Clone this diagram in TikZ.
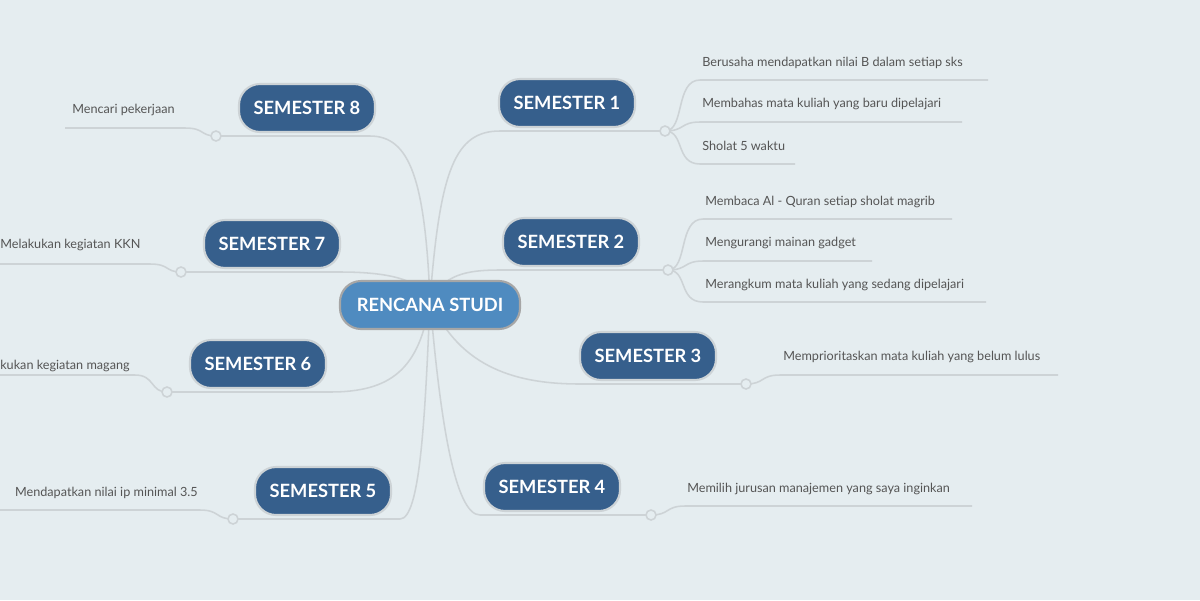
\documentclass[tikz,border=0pt]{standalone}
\usepackage{fontspec}
\setmainfont{Lato}
\definecolor{bg}{HTML}{E5EDF0}
\definecolor{sem}{HTML}{365F8C}
\definecolor{ctr}{HTML}{4F8BC0}
\definecolor{ln}{HTML}{CDD3D6}
\definecolor{tx}{HTML}{555555}
\begin{document}
\begin{tikzpicture}[x=0.025cm,y=-0.025cm,
 semn/.style={draw=ln,line width=1.5pt,fill=sem,rounded corners=15pt,text=white,font=\fontsize{13}{14}\selectfont\bfseries,minimum height=0.6cm*2,minimum width=3.4cm,inner sep=0pt},
 ctrn/.style={semn,fill=ctr,draw=gray!70,minimum width=4.5cm},
 lk/.style={draw=ln,line width=1.1pt},
 dot/.style={circle,draw=ln,line width=1.1pt,fill=bg,minimum size=0.25cm,inner sep=0pt},
 lf/.style={font=\fontsize{9}{10}\selectfont,text=tx,inner sep=0pt}]
\useasboundingbox[fill=bg] (0,0) rectangle (1200,600);
% connectors
\coordinate (c1) at (665,131); \coordinate (c2) at (668,270); \coordinate (c3) at (746,384); \coordinate (c4) at (651,515);
\coordinate (c5) at (233,519); \coordinate (c6) at (167,392); \coordinate (c7) at (181,272); \coordinate (c8) at (216,136);
\draw[lk] (430,300) .. controls (440,170) and (455,131) .. (500,131) -- (c1);
\draw[lk] (430,300) .. controls (445,275) and (465,270) .. (500,270) -- (c2);
\draw[lk] (430,300) .. controls (460,370) and (520,384) .. (580,384) -- (c3);
\draw[lk] (430,300) .. controls (440,420) and (455,515) .. (480,515) -- (c4);
\draw[lk] (430,300) .. controls (425,420) and (420,519) .. (400,519) -- (c5);
\draw[lk] (430,300) .. controls (420,370) and (390,392) .. (330,392) -- (c6);
\draw[lk] (430,300) .. controls (420,280) and (390,272) .. (340,272) -- (c7);
\draw[lk] (430,300) .. controls (425,180) and (410,136) .. (370,136) -- (c8);
% leaves
\draw[lk] (c1) .. controls (685,131) and (675,80) .. (700,80) -- (988,80);
\draw[lk] (c1) .. controls (685,131) and (680,122) .. (700,122) -- (962,122);
\draw[lk] (c1) .. controls (685,131) and (675,164) .. (700,164) -- (795,164);
\draw[lk] (c2) .. controls (688,270) and (678,219) .. (703,219) -- (952,219);
\draw[lk] (c2) .. controls (688,270) and (683,261) .. (703,261) -- (872,261);
\draw[lk] (c2) .. controls (688,270) and (678,302) .. (703,302) -- (986,302);
\draw[lk] (c3) .. controls (765,384) and (760,375) .. (780,375) -- (1058,375);
\draw[lk] (c4) .. controls (670,515) and (665,506) .. (685,506) -- (972,506);
\draw[lk] (c5) .. controls (215,519) and (220,510) .. (200,510) -- (0,510);
\draw[lk] (c6) .. controls (150,392) and (155,375) .. (135,375) -- (0,375);
\draw[lk] (c7) .. controls (165,272) and (170,264) .. (150,264) -- (0,264);
\draw[lk] (c8) .. controls (200,136) and (205,128) .. (185,128) -- (65,128);
\foreach \c in {c1,c2,c3,c4,c5,c6,c7,c8} \node[dot] at (\c) {};
% leaf texts
\node[lf,anchor=west] (l11) at (702,63) {Berusaha mendapatkan nilai B dalam setiap sks};
\node[lf,anchor=west] (l12) at (702,104) {Membahas mata kuliah yang baru dipelajari};
\node[lf,anchor=west] (l13) at (702,146) {Sholat 5 waktu};
\node[lf,anchor=west] (l21) at (705,202) {Membaca Al - Quran setiap sholat magrib};
\node[lf,anchor=west] (l22) at (705,243) {Mengurangi mainan gadget};
\node[lf,anchor=west] (l23) at (705,285) {Merangkum mata kuliah yang sedang dipelajari};
\node[lf,anchor=west] (l31) at (783,357) {Memprioritaskan mata kuliah yang belum lulus};
\node[lf,anchor=west] (l41) at (687,489) {Memilih jurusan manajemen yang saya inginkan};
\node[lf,anchor=east] (l51) at (198,493) {Mendapatkan nilai ip minimal 3.5};
\node[lf,anchor=east] (l61) at (130,366) {Melakukan kegiatan magang};
\node[lf,anchor=west] (l71) at (0,245) {Melakukan kegiatan KKN};
\node[lf,anchor=west] (l81) at (72,110) {Mencari pekerjaan};
% main nodes
\node[ctrn] (c) at (430,305) {RENCANA STUDI};
\node[semn] (s1) at (567,103) {SEMESTER 1};
\node[semn] (s2) at (571,242) {SEMESTER 2};
\node[semn] (s3) at (648,356) {SEMESTER 3};
\node[semn] (s4) at (552,487) {SEMESTER 4};
\node[semn] (s5) at (323,491) {SEMESTER 5};
\node[semn] (s6) at (258,364) {SEMESTER 6};
\node[semn] (s7) at (272,244) {SEMESTER 7};
\node[semn] (s8) at (307,108) {SEMESTER 8};
\end{tikzpicture}
\end{document}
